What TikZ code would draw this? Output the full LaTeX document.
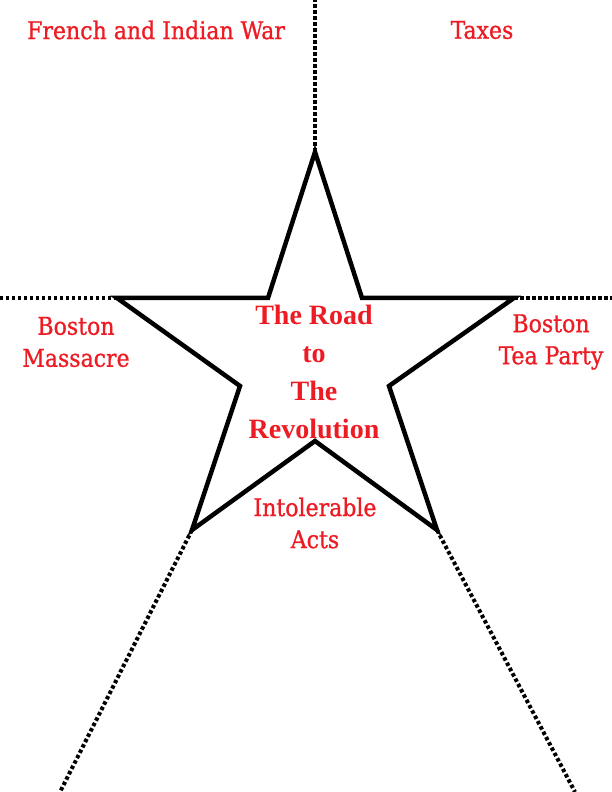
\documentclass[tikz,border=0pt]{standalone}
\usepackage{fontspec}
\setmainfont{DejaVu Serif Condensed}
\newfontfamily\lblfont[FakeBold=0.9]{DejaVu Serif Condensed}
\newfontfamily\titlefont{Liberation Serif}
\definecolor{lblred}{RGB}{237,28,36}
\begin{document}
\begin{tikzpicture}[x=1pt,y=1pt,
  starline/.style={line width=4.5pt, line join=miter, black},
  dotline/.style={line width=4pt, dash pattern=on 3.5pt off 2.5pt, black},
  lbl/.style={text=lblred, font=\lblfont\fontsize{24.5}{32}\selectfont, align=center, inner sep=0pt},
  ttl/.style={text=lblred, font=\titlefont\bfseries\fontsize{28}{38}\selectfont, align=center, inner sep=0pt}]
\useasboundingbox (0,0) rectangle (612,792);
% star vertices (y flipped: 792 - y)
\coordinate (top) at (315,640);
\coordinate (iur) at (362,494);
\coordinate (oright) at (514,494);
\coordinate (ir) at (389,406);
\coordinate (olr) at (437,262);
\coordinate (ib) at (315,351);
\coordinate (oll) at (192,262);
\coordinate (il) at (240,406);
\coordinate (oleft) at (117,494);
\coordinate (iul) at (268,494);
% free ends of the dotted lines
\coordinate (etop) at (315,792);
\coordinate (eleft) at (0,494);
\coordinate (eright) at (612,494);
\coordinate (ell) at (60,0);
\coordinate (elr) at (575,0);
\draw[starline] (top) -- (iur) -- (oright) -- (ir) -- (olr) -- (ib) -- (oll) -- (il) -- (oleft) -- (iul) -- cycle;
\draw[dotline] (top) -- (etop);
\draw[dotline] (oleft) -- (eleft);
\draw[dotline] (oright) -- (eright);
\draw[dotline] (oll) -- (ell);
\draw[dotline] (olr) -- (elr);
% labels
\node[lbl] (fiw) at (156,762) {French and Indian War};
\node[lbl] (tax) at (482,762) {Taxes};
\node[lbl] (bm) at (76,450) {Boston\\Massacre};
\node[lbl] (btp) at (551,450) {Boston\\Tea Party};
\node[lbl] (ia) at (315,269) {Intolerable\\Acts};
\node[ttl] (title) at (314,420) {The Road\\to\\The\\Revolution};
\end{tikzpicture}
\end{document}
